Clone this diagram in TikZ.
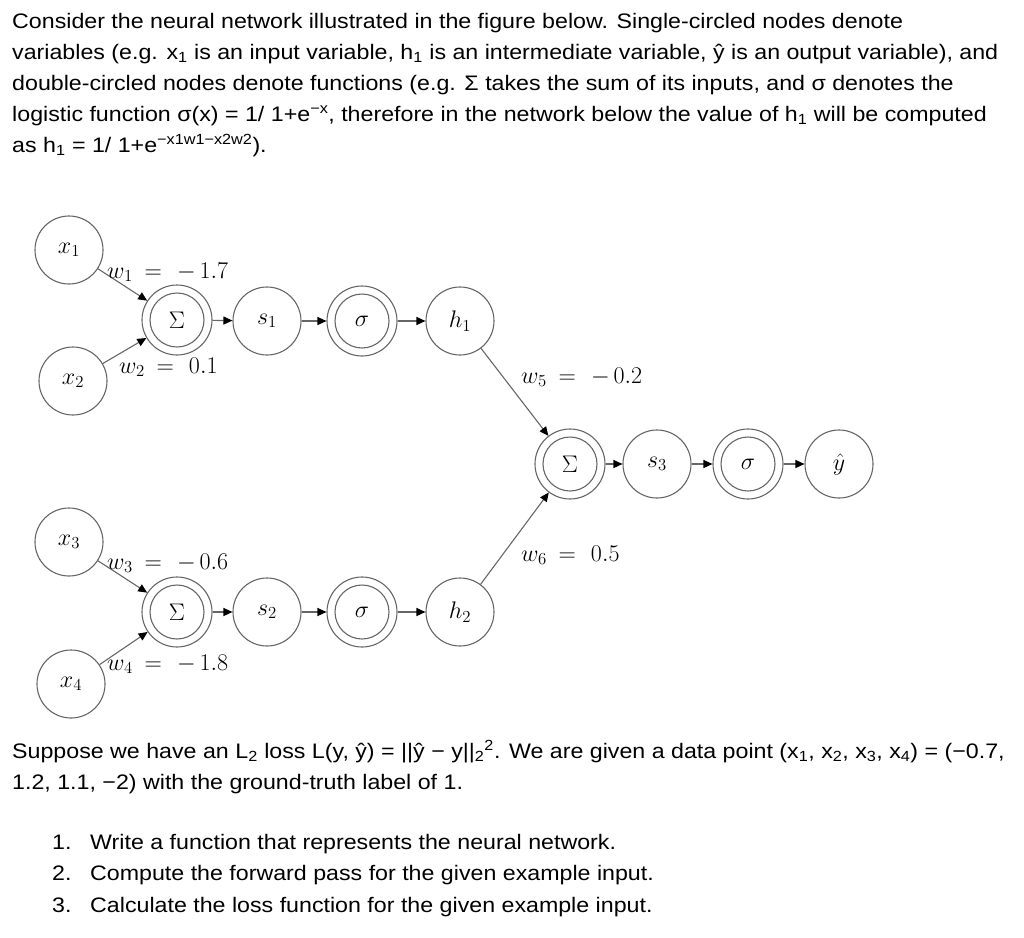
\RequirePackage{fix-cm}
\documentclass[tikz,border=0pt]{standalone}
\usepackage{fontspec}
\setmainfont{Liberation Sans}[FakeStretch=1.105]
\usetikzlibrary{arrows.meta}
\newcommand\mfnt{\fontsize{24}{28}\selectfont}
\newcommand\tfnt{\fontsize{21}{31}\selectfont}
\newcommand\wlab[3]{$#1\hspace{12pt}{=}\hspace{15pt}#2#3$}
\begin{document}
\begin{tikzpicture}[x=1pt,y=-1pt,
  var/.style={circle, draw=black!60, line width=1.1pt, minimum size=68pt, inner sep=0pt, font=\mfnt},
  func/.style={var, minimum size=70pt, path picture={\draw[black!60, line width=1.1pt] (path picture bounding box.center) circle[radius=27pt];}},
  arr/.style={draw=black!60, line width=1.1pt, -{Triangle[length=9pt,width=8pt,color=black]}},
  lbl/.style={anchor=base west, inner sep=0pt, font=\mfnt},
  txt/.style={anchor=base west, inner sep=0pt, font=\tfnt}]
\useasboundingbox (0,0) rectangle (1024,937);
% text above
\node[txt] (t1) at (12,28) {Consider the neural network illustrated in the figure below. Single-circled nodes denote};
\node[txt] (t2) at (12,59) {variables (e.g. x\textsubscript{1} is an input variable, h\textsubscript{1} is an intermediate variable, ŷ is an output variable), and};
\node[txt] (t3) at (12,90) {double-circled nodes denote functions (e.g. Σ takes the sum of its inputs, and σ denotes the};
\node[txt] (t4) at (12,121) {logistic function σ(x) = 1/ 1+e\textsuperscript{−x}, therefore in the network below the value of h\textsubscript{1} will be computed};
\node[txt] (t5) at (12,152) {as h\textsubscript{1} = 1/ 1+e\textsuperscript{−x1w1−x2w2}).};
% nodes
\node[var] (x1) at (69,250) {$x_1$};
\node[var] (x2) at (73,381) {$x_2$};
\node[var] (x3) at (69,542) {$x_3$};
\node[var] (x4) at (71,684) {$x_4$};
\node[func] (S1) at (177,320) {$\Sigma$};
\node[var] (s1) at (267,321) {$s_1$};
\node[func] (g1) at (362,321) {$\sigma$};
\node[var] (h1) at (460,321) {$h_1$};
\node[func] (S2) at (177,612) {$\Sigma$};
\node[var] (s2) at (267,612) {$s_2$};
\node[func] (g2) at (362,612) {$\sigma$};
\node[var] (h2) at (460,612) {$h_2$};
\node[func] (S3) at (570,464) {$\Sigma$};
\node[var] (s3) at (657,464) {$s_3$};
\node[func] (g3) at (748,464) {$\sigma$};
\node[var] (yh) at (839,464) {$\hat{y}$};
% edges
\draw[arr] (x1) -- (S1);
\draw[arr] (x2) -- (S1);
\draw[arr] (S1) -- (s1);
\draw[arr] (s1) -- (g1);
\draw[arr] (g1) -- (h1);
\draw[arr] (x3) -- (S2);
\draw[arr] (x4) -- (S2);
\draw[arr] (S2) -- (s2);
\draw[arr] (s2) -- (g2);
\draw[arr] (g2) -- (h2);
\draw[arr] (h1) -- (S3);
\draw[arr] (h2) -- (S3);
\draw[arr] (S3) -- (s3);
\draw[arr] (s3) -- (g3);
\draw[arr] (g3) -- (yh);
% weight labels
\node[lbl] (w1) at (107,278) {\wlab{w_1}{{-}\hspace{4pt}}{1.7}};
\node[lbl] (w2) at (119,373) {\wlab{w_2}{}{0.1}};
\node[lbl] (w3) at (107,569) {\wlab{w_3}{{-}\hspace{4pt}}{0.6}};
\node[lbl] (w4) at (107,670) {\wlab{w_4}{{-}\hspace{4pt}}{1.8}};
\node[lbl] (w5) at (521,383) {\wlab{w_5}{{-}\hspace{4pt}}{0.2}};
\node[lbl] (w6) at (521,561) {\wlab{w_6}{}{0.5}};
% text below
\node[txt] (b1) at (12,758) {Suppose we have an L\textsubscript{2} loss L(y, ŷ) = ||ŷ − y||\textsubscript{2}\textsuperscript{2}. We are given a data point (x\textsubscript{1}, x\textsubscript{2}, x\textsubscript{3}, x\textsubscript{4}) = (−0.7,};
\node[txt] (b2) at (12,789) {1.2, 1.1, −2) with the ground-truth label of 1.};
\node[txt] (n1) at (52,849) {1.};
\node[txt] (l1) at (90,849) {Write a function that represents the neural network.};
\node[txt] (n2) at (52,880) {2.};
\node[txt] (l2) at (90,880) {Compute the forward pass for the given example input.};
\node[txt] (n3) at (52,912) {3.};
\node[txt] (l3) at (90,912) {Calculate the loss function for the given example input.};
\end{tikzpicture}
\end{document}
